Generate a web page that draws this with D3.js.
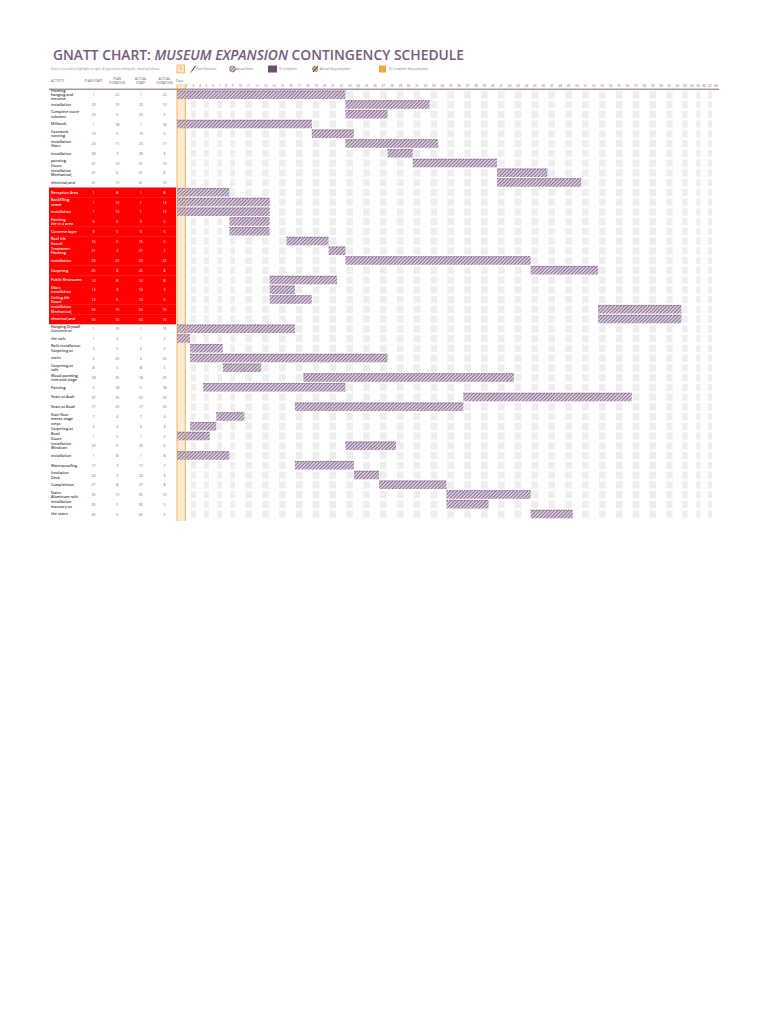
<!DOCTYPE html>
<html>
<head>
<meta charset="utf-8">
<script src="https://cdn.jsdelivr.net/npm/d3@7"></script>
<style>
  body { margin: 0; background: #fff; }
  text { font-family: "Open Sans", "Liberation Sans", sans-serif; }
</style>
</head>
<body>
<div id="chart"></div>
<script>
// activity names, as the visible lines of each wrapped cell
const activities = [
  ["Framing", "hanging and", "mezzine"], ["installation"], ["Complete stone", "columns"],
  ["Millwork"], ["Casework", "running"], ["installation", "Glass"], ["installation"],
  ["painting", "Doors"], ["installation", "Mechanical,"], ["electrical,and"],
  ["Reception Area"], ["Backfilling", "sewer"], ["installation"], ["Painting", "tile in a area"],
  ["Concrete layer"], ["Roof tile", "Gravel"], ["Treatment", "Flashing"], ["installation"],
  ["Carpeting"], ["Public Restrooms"], ["Glass", "installation"], ["Ceiling tile", "Doors"],
  ["installation", "Mechanical,"], ["electrical,and"],
  ["Hanging Drywall", "Concrete or"], ["the rails"], ["Rails installation", "Carpeting at"],
  ["stairs"], ["Carpeting at", "cafe"], ["Wood paneling,", "trim and stage"], ["Painting"],
  ["Seats at Audi"], ["Seats at Bowl"], ["Stair floor", "mezzo stage"], ["steps", "Carpeting at"],
  ["Bowl", "Doors"], ["installation", "Windows"], ["installation"], ["Waterproofing"],
  ["Insulation", "Deck"], ["Completition"], ["Stairs", "Aluminum rails"],
  ["installation", "masonry on"], ["the stairs"]
];
const planStart      = [1, 23, 23, 1, 19, 23, 28, 31, 41, 41, 1, 1, 1, 9, 9, 16, 21, 23, 45, 14, 14, 14, 53, 53, 1, 1, 3, 3, 8, 18, 5, 37, 17, 7, 3, 1, 23, 1, 17, 24, 27, 35, 35, 45];
const planDuration   = [22, 10, 5, 18, 5, 11, 3, 10, 6, 10, 8, 13, 13, 5, 5, 5, 2, 22, 8, 8, 3, 5, 10, 10, 16, 2, 5, 25, 5, 25, 18, 20, 20, 4, 4, 5, 6, 8, 7, 3, 8, 10, 5, 5];
const actualStart    = [1, 23, 23, 1, 19, 23, 28, 31, 41, 41, 1, 1, 1, 9, 9, 16, 21, 23, 45, 14, 14, 14, 53, 53, 1, 1, 3, 3, 8, 18, 5, 37, 17, 7, 3, 1, 23, 1, 17, 24, 27, 35, 35, 45];
const actualDuration = [22, 10, 5, 18, 5, 11, 3, 10, 6, 10, 8, 13, 13, 5, 5, 5, 2, 22, 8, 8, 3, 5, 10, 10, 16, 2, 5, 25, 5, 25, 18, 20, 20, 4, 4, 5, 6, 8, 7, 3, 8, 10, 5, 5];
// rows flagged in red (contingency block)
const flaggedRows = [10, 11, 12, 13, 14, 15, 16, 17, 18, 19, 20, 21, 22, 23];
const days = d3.range(1, 69);
const periodHighlight = 1;
const columnHeaders = [["PLAN START"], ["PLAN", "DURATION"], ["ACTUAL", "START"], ["ACTUAL", "DURATION"]];
const legendLabels = ["Plan Duration", "Actual Start", "% Complete", "Actual (beyond plan)", "% Complete (beyond plan)"];

const W = 768, H = 1024;
const purple = "#6b4e71", orange = "#f2a541";

const svg = d3.select("#chart").append("svg")
  .attr("width", W).attr("height", H);

const defs = svg.append("defs");
const hatch = defs.append("pattern")
  .attr("id", "hatch").attr("patternUnits", "userSpaceOnUse")
  .attr("width", 2.5).attr("height", 2.5)
  .attr("patternTransform", "rotate(45)");
hatch.append("rect").attr("width", 2.5).attr("height", 2.5).attr("fill", "#ddd0e1");
hatch.append("line").attr("x1", 0.5).attr("x2", 0.5).attr("y1", 0).attr("y2", 2.5)
  .attr("stroke", "#7a5c80").attr("stroke-width", 0.85);

const hatchOrange = defs.append("pattern")
  .attr("id", "hatchOrange").attr("patternUnits", "userSpaceOnUse")
  .attr("width", 2.3).attr("height", 2.3)
  .attr("patternTransform", "rotate(45)");
hatchOrange.append("rect").attr("width", 2.3).attr("height", 2.3).attr("fill", "#f6cf97");
hatchOrange.append("line").attr("x1", 0.6).attr("x2", 0.6).attr("y1", 0).attr("y2", 2.3)
  .attr("stroke", purple).attr("stroke-width", 1);

// day columns are narrower for single digits and at the far end of the sheet
const x = d3.scaleLinear()
  .domain([1, 10, 61, 63, 65, 67, 69])
  .range([177, 236, 665.4, 681.4, 695.4, 706.9, 719]);

const y = d3.scaleBand()
  .domain(d3.range(activities.length))
  .range([90, 519]);
const bw = y.bandwidth();

const colX = d3.scalePoint()
  .domain(d3.range(columnHeaders.length))
  .range([93.5, 164.5]);

// title
const title = svg.append("text")
  .attr("x", 53).attr("y", 60)
  .attr("font-size", 14.5).attr("font-weight", 600)
  .attr("fill", "#735a7a")
  .attr("textLength", 411).attr("lengthAdjust", "spacingAndGlyphs");
title.append("tspan").text("GNATT CHART: ");
title.append("tspan").attr("font-style", "italic").text("MUSEUM EXPANSION");
title.append("tspan").text(" CONTINGENCY SCHEDULE");

svg.append("text")
  .attr("x", 51).attr("y", 70)
  .attr("font-size", 3.1).attr("fill", "#8a8a8a")
  .text("Select a period to highlight at right.  A legend describing the charting follows.");

// period selector
const pg = svg.append("g");
pg.append("rect").attr("x", 177).attr("y", 65).attr("width", 7.5).attr("height", 8)
  .attr("fill", "#fde6c3").attr("stroke", orange).attr("stroke-width", 0.7);
pg.append("text").attr("x", 180.75).attr("y", 70.3).attr("text-anchor", "middle")
  .attr("font-size", 3.5).attr("fill", "#555").text(periodHighlight);

// legend
const legendX = [191, 230, 268, 312, 379];
const lg = svg.append("g");
// plan duration pencil
lg.append("line").attr("x1", legendX[0]).attr("y1", 72).attr("x2", legendX[0] + 4.5).attr("y2", 66)
  .attr("stroke", "#444").attr("stroke-width", 1.1);
lg.append("line").attr("x1", legendX[0] - 0.6).attr("y1", 72.8).attr("x2", legendX[0] + 0.8).attr("y2", 71)
  .attr("stroke", orange).attr("stroke-width", 1.1);
// actual start
lg.append("circle").attr("cx", legendX[1] + 2.5).attr("cy", 69).attr("r", 3)
  .attr("fill", "url(#hatch)").attr("stroke", purple).attr("stroke-width", 0.5);
// % complete
lg.append("rect").attr("x", legendX[2]).attr("y", 65.5).attr("width", 9).attr("height", 7)
  .attr("fill", purple);
// actual beyond plan
lg.append("circle").attr("cx", legendX[3] + 3).attr("cy", 69).attr("r", 3)
  .attr("fill", "url(#hatchOrange)");
lg.append("line").attr("x1", legendX[3] + 1).attr("y1", 72).attr("x2", legendX[3] + 6).attr("y2", 66)
  .attr("stroke", "#444").attr("stroke-width", 1);
// % complete beyond plan
lg.append("rect").attr("x", legendX[4]).attr("y", 65.5).attr("width", 7).attr("height", 7)
  .attr("fill", orange);
const legendTextX = [196, 236, 279, 320, 389];
lg.selectAll("text.leg").data(legendLabels).join("text")
  .attr("class", "leg")
  .attr("x", (d, i) => legendTextX[i]).attr("y", 70)
  .attr("font-size", 3.2).attr("fill", "#777")
  .text(d => d);

// column headers
svg.append("text").attr("x", 51).attr("y", 82.3)
  .attr("font-size", 3.2).attr("fill", "#666").text("ACTIVITY");
const hg = svg.append("g").selectAll("text").data(columnHeaders).join("text")
  .attr("x", (d, i) => colX(i))
  .attr("text-anchor", "middle").attr("font-size", 3.2).attr("fill", "#666");
hg.selectAll("tspan").data(d => d.map(t => [t, d.length])).join("tspan")
  .attr("x", function () { return d3.select(this.parentNode).attr("x"); })
  .attr("y", (d, k) => d[1] === 1 ? 82.3 : 80.3 + k * 3.7)
  .text(d => d[0]);
svg.append("text").attr("x", 176).attr("y", 82.3)
  .attr("font-size", 3.2).attr("fill", "#666").text("Days");

// red contingency block
svg.append("g").selectAll("rect").data(flaggedRows).join("rect")
  .attr("x", 49).attr("y", i => y(i))
  .attr("width", 127).attr("height", bw + 0.3)
  .attr("fill", "#ff0000");

// grid cells
const cells = [];
activities.forEach((a, i) => days.forEach(d => {
  if (d % 2 === 1 && d !== periodHighlight) cells.push({ i, d });
}));
svg.append("g").selectAll("rect").data(cells).join("rect")
  .attr("x", c => x(c.d) + 0.9)
  .attr("y", c => y(c.i) + 1.3)
  .attr("width", c => Math.max(0.5, x(c.d + 1) - x(c.d) - 1.8))
  .attr("height", bw - 2.6)
  .attr("fill", "#eeeeee");

// period highlight column fill
svg.append("rect")
  .attr("x", x(periodHighlight)).attr("y", 84)
  .attr("width", x(periodHighlight + 1) - x(periodHighlight) + 1.8)
  .attr("height", 521 - 84)
  .attr("fill", "#fdebd2");

// day numbers
svg.append("g").selectAll("text").data(days).join("text")
  .attr("x", d => (x(d) + x(d + 1)) / 2).attr("y", 87.4)
  .attr("text-anchor", "middle").attr("font-size", 3.1).attr("fill", "#666")
  .text(d => d);

// header rule
svg.append("line").attr("x1", 49).attr("x2", 719).attr("y1", 89.2).attr("y2", 89.2)
  .attr("stroke", purple).attr("stroke-width", 0.9);

// activity labels and values
const rows = svg.append("g").selectAll("g").data(activities).join("g")
  .attr("transform", (d, i) => `translate(0,${y(i) + bw / 2 + 1.2})`)
  .attr("fill", (d, i) => flaggedRows.includes(i) ? "#fff" : "#333");

rows.append("text")
  .attr("font-size", 3.7).attr("font-weight", 600)
  .selectAll("tspan").data(d => d.map((t, k) => ({ t, k, n: d.length }))).join("tspan")
  .attr("x", 51)
  .attr("y", l => (l.k - (l.n - 1) / 2) * 4.4)
  .text(l => l.t);

const valueCols = [planStart, planDuration, actualStart, actualDuration];
rows.each(function (d, i) {
  d3.select(this).selectAll("text.val").data(valueCols).join("text")
    .attr("class", "val")
    .attr("x", (col, c) => colX(c))
    .attr("y", 0.3)
    .attr("text-anchor", "middle")
    .attr("font-size", 3.5)
    .attr("fill", flaggedRows.includes(i) ? "#fff" : "#666")
    .text(col => col[i]);
});

// bars
const bars = svg.append("g").selectAll("g").data(activities).join("g");
bars.append("rect")
  .attr("x", (d, i) => x(actualStart[i]))
  .attr("y", (d, i) => y(i) + 0.8)
  .attr("width", (d, i) => x(actualStart[i] + actualDuration[i]) - x(actualStart[i]))
  .attr("height", bw - 1.5)
  .attr("fill", "url(#hatch)");
bars.append("line")
  .attr("x1", (d, i) => x(planStart[i]))
  .attr("x2", (d, i) => x(planStart[i] + planDuration[i]))
  .attr("y1", (d, i) => y(i) + 0.9)
  .attr("y2", (d, i) => y(i) + 0.9)
  .attr("stroke", "#4e3354").attr("stroke-width", 0.6)
  .attr("stroke-dasharray", "1.6,0.9");

// period highlight borders
const hx0 = x(periodHighlight), hx1 = x(periodHighlight + 1) + 1.8;
svg.append("g").selectAll("line").data([hx0, hx1]).join("line")
  .attr("x1", d => d).attr("x2", d => d)
  .attr("y1", 84).attr("y2", 521)
  .attr("stroke", orange).attr("stroke-width", 0.9).attr("opacity", 0.9);
</script>
</body>
</html>
